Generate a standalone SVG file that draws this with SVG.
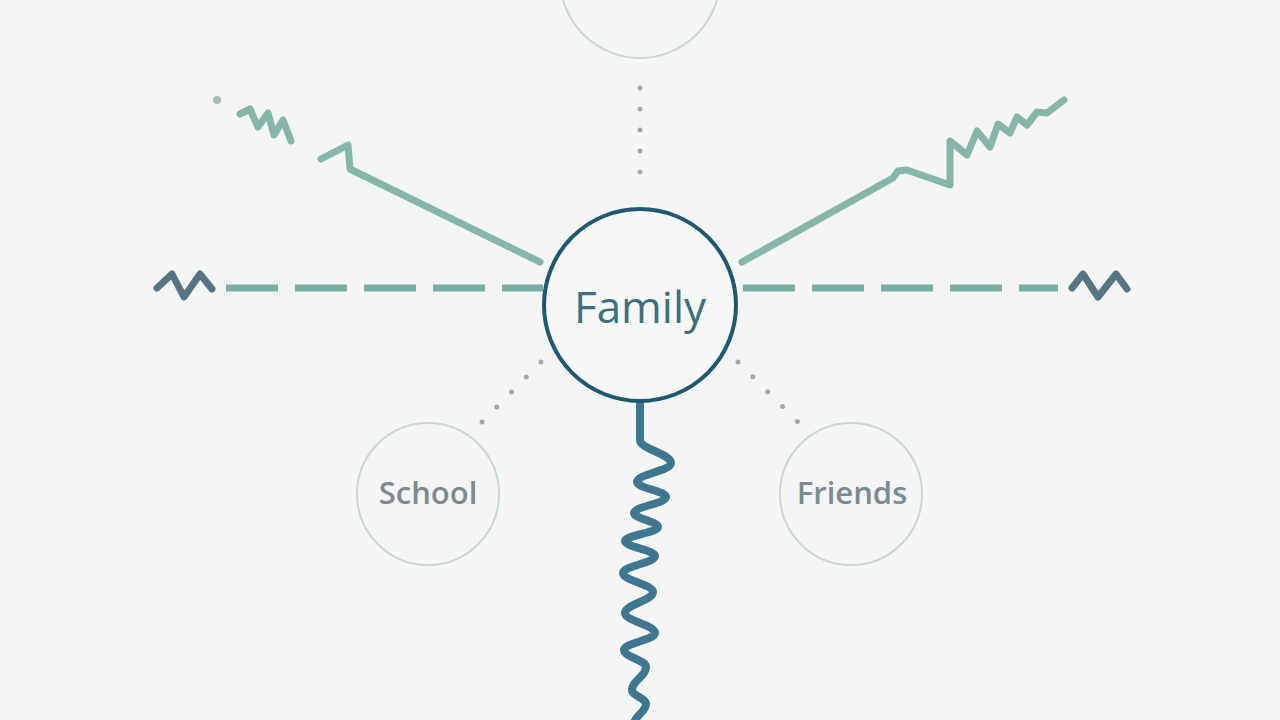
<svg xmlns="http://www.w3.org/2000/svg" width="1280" height="720" viewBox="0 0 1280 720">
<style>
.bg{fill:#f4f5f5}
.teal{fill:none;stroke:#86b5aa;stroke-width:7;stroke-linecap:round;stroke-linejoin:round}
.dash{fill:none;stroke:#7aada3;stroke-width:7;stroke-dasharray:52 17}
.slate{fill:none;stroke:#577482;stroke-width:7;stroke-linecap:round;stroke-linejoin:round}
.spring{fill:none;stroke:#3f7690;stroke-width:8;stroke-linecap:round;stroke-linejoin:round}
.dots{fill:none;stroke:#a3a8a8;stroke-width:5;stroke-linecap:round;stroke-dasharray:0 21}
.sat{fill:none;stroke:#c9d6d3;stroke-width:2}
.satlbl{font-family:"Open Sans",Lato,sans-serif;font-size:31px;font-weight:600;fill:#7d8b90;text-anchor:middle}
</style>
<rect class="bg" x="0" y="0" width="1280" height="720"/>
<g id="connectors">
  <line class="dash" x1="226" y1="288" x2="543" y2="288"/>
  <polyline class="slate" points="157,288 172,274 184,297 200,274 212,289"/>
  <line class="dash" x1="737" y1="288" x2="1058" y2="288" stroke-dashoffset="-6"/>
  <polyline class="slate" points="1072,288 1083,274 1098,297 1116,274 1127,289"/>
  <polyline class="teal" points="540,262 350,169 348,145 321,159"/>
  <polyline class="teal" points="240,114 250,109 258,127 268,113 274,135 283,120 291,141"/>
  <circle cx="217" cy="100" r="4" fill="#a3c0b9"/>
  <polyline class="teal" points="742,262 893,178 898,171 907,170 950,185 950,141 967,155 977,131 990,147 998,124 1010,133 1017,117 1027,125 1037,112 1047,113 1064,100"/>
  <path class="spring" d="M640,402 L640,440 C640,449 671,454 671,463 C671,470.6 637,474.4 637,482 C637,488 666,491 666,497 C666,503.4 634,506.6 634,513 C634,518.6 658,521.4 658,527 C658,532.6 625,535.4 625,541 C625,547 655,550 655,556 C655,562.8 623,566.2 623,573 C623,580.6 653,584.4 653,592 C653,600.4 625,604.6 625,613 C625,621 655,625 655,633 C655,639.8 624,643.2 624,650 C624,656.8 646,660.2 646,667 C646,676.2 632,680.8 632,690 C632,695.6 646,698.4 646,704 C646,712 634,716 634,724"/>
  <line class="dots" x1="640" y1="88" x2="640" y2="175"/>
  <line class="dots" x1="541" y1="362" x2="480" y2="424"/>
  <line class="dots" x1="738" y1="362" x2="800" y2="424"/>
</g>
<g id="top">
  <circle class="sat" cx="640" cy="-22" r="80" stroke="#b3c9c4"/>
</g>
<g id="family">
  <circle cx="640" cy="305" r="96" fill="#f6f7f7" stroke="#1f5870" stroke-width="4"/>
  <text x="640" y="323" font-family="'Open Sans',Lato,sans-serif" font-size="44" fill="#3e6f7d" text-anchor="middle">Family</text>
</g>
<g id="school">
  <circle class="sat" cx="428" cy="494" r="71"/>
  <text class="satlbl" x="428" y="504">School</text>
</g>
<g id="friends">
  <circle class="sat" cx="851" cy="494" r="71"/>
  <text class="satlbl" x="852" y="504">Friends</text>
</g>
</svg>
